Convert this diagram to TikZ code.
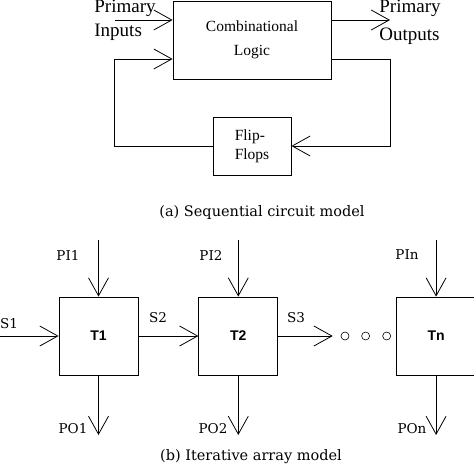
\documentclass[tikz,border=0pt]{standalone}
\usepackage{fontspec}
\setmainfont{Liberation Serif}
\newfontfamily\capfont{DejaVu Serif}
\newfontfamily\cellfont{Liberation Sans}
\usetikzlibrary{positioning,arrows.meta}

\begin{document}
\begin{tikzpicture}[x=1pt, y=-1pt, line width=0.8pt,
    block/.style = {draw, rectangle, inner sep=0pt, align=center, font=\fontsize{15.5}{24}\selectfont},
    side/.style = {inner sep=0pt, align=left, anchor=west},
    cell/.style = {draw, rectangle, minimum width=79pt, minimum height=78pt, inner sep=0pt, font=\cellfont\bfseries\fontsize{14}{16}\selectfont},
    tag/.style = {inner sep=0pt, font=\capfont\fontsize{13.5}{16}\selectfont},
    caption/.style = {inner sep=0pt, font=\capfont\fontsize{14.5}{17}\selectfont},
    dot/.style = {circle, draw, line width=0.6pt, minimum size=8pt, inner sep=0pt},
    >={Straight Barb[length=18pt, width=20pt, line width=0.8pt]}]
    \useasboundingbox (0,0) rectangle (474,468);

    % (a) sequential circuit model
    \node[block, minimum width=158pt, minimum height=78pt] (logic) at (252,40) {Combinational\\Logic};
    \node[block, minimum width=78pt, minimum height=58pt, align=left, font=\fontsize{15.5}{19}\selectfont] (ff) at (252,146) {Flip-\\Flops};
    \node[side, font=\fontsize{19}{24}\selectfont] (inlab) at (94,20) {Primary\\Inputs};
    \node[side, font=\fontsize{19}{28}\selectfont] (outlab) at (379,22) {Primary\\Outputs};
    \coordinate (pin) at (115,20);
    \coordinate (pout) at (390,20);
    \coordinate (fbr) at (390,59);
    \coordinate (fbl) at (114,59);
    \draw[->] (pin) -- (pin -| logic.west);
    \draw[->] (logic.east |- pout) -- (pout);
    \draw[->] (logic.east |- fbr) -- (fbr) |- (ff.east);
    \draw[->] (ff.west) -| (fbl) -- (logic.west |- fbl);
    \node[caption] (capa) at (262,212) {(a) Sequential circuit model};

    % (b) iterative array model
    \node[cell] (t1) at (98.5,336) {T1};
    \node[cell, right=60pt of t1] (t2) {T2};
    \node[cell, right=118pt of t2] (tn) {Tn};
    \node[dot] (d1) at (345,336) {};
    \node[dot, right=12pt of d1] (d2) {};
    \node[dot, right=12.5pt of d2] (d3) {};
    \coordinate (toprow) at (0,240);
    \coordinate (botrow) at (0,435);
    \coordinate (s1) at (0,336);
    \foreach \t in {t1,t2,tn} {
        \draw[->] (\t |- toprow) -- (\t.north);
        \draw[->] (\t.south) -- (\t |- botrow);
    }
    \draw[->] (s1) -- (t1.west);
    \draw[->] (t1) -- (t2);
    \draw[->, shorten >=8pt] (t2) -- (d1);
    \node[tag] (pi1) at (68,255) {PI1};
    \node[tag] (pi2) at (211,255) {PI2};
    \node[tag] (pin) at (407,255) {PIn};
    \node[tag] (po1) at (73,429) {PO1};
    \node[tag] (po2) at (213,429) {PO2};
    \node[tag] (pon) at (412,429) {POn};
    \node[tag] (s1lab) at (9,324) {S1};
    \node[tag] (s2lab) at (158,318) {S2};
    \node[tag] (s3lab) at (296,318) {S3};
    \node[caption] (capb) at (251,457) {(b) Iterative array model};
\end{tikzpicture}
\end{document}
